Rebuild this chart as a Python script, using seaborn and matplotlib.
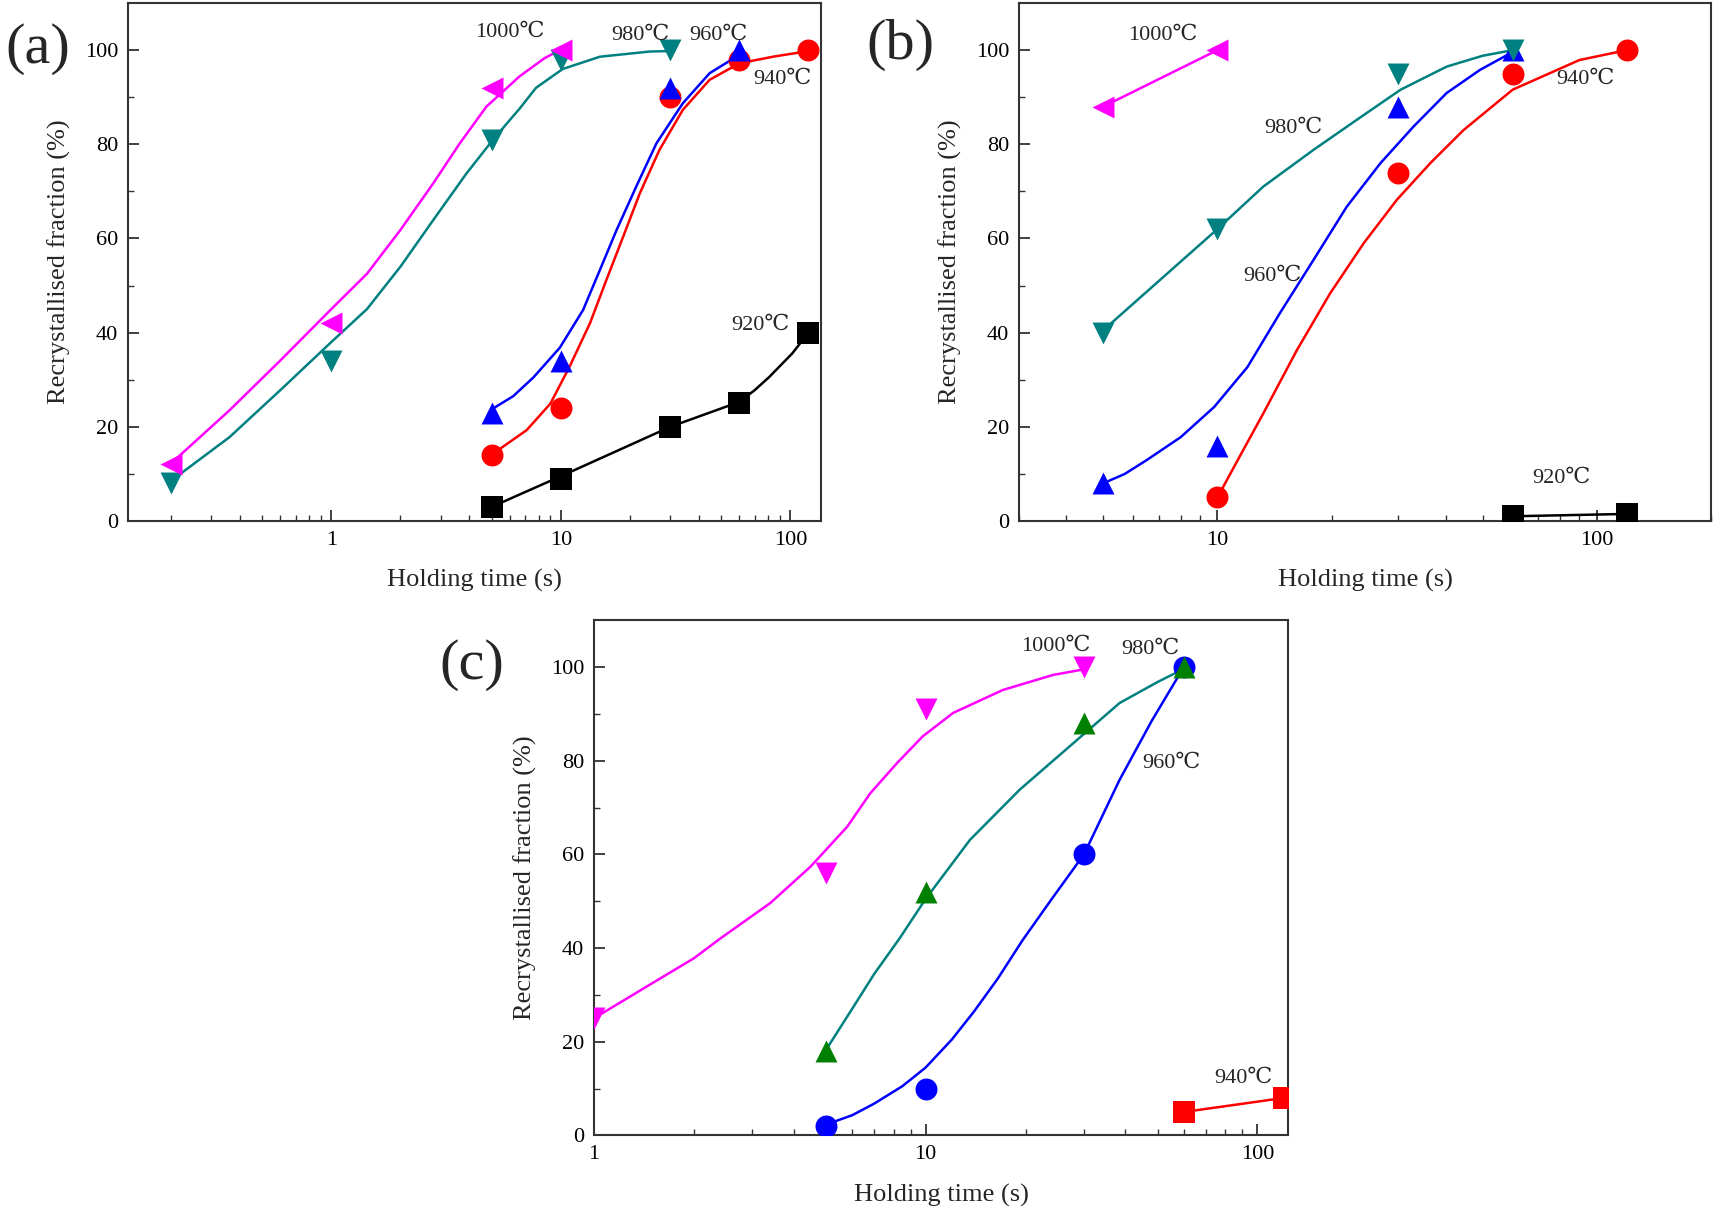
import numpy as np
import pandas as pd
import matplotlib.pyplot as plt
import matplotlib.ticker as mticker
import seaborn as sns

# ---- panel (a): markers and fitted curves ----
a_t_1000 = [0.2, 1, 5, 10]
a_y_1000 = [12, 42, 92, 100]
a_fit_t_1000 = [0.2, 0.36, 0.6, 1, 1.43, 2, 2.78, 3.63, 4.74, 6.6, 8.5, 9.9]
a_fit_y_1000 = [12.2, 23.5, 34.1, 45, 52.5, 61.8, 71.7, 80.2, 88, 94.4, 98.3, 100]

a_t_980 = [0.2, 1, 5, 10, 30]
a_y_980 = [8, 34, 81, 98, 100]
a_fit_t_980 = [0.2, 0.36, 0.6, 1, 1.43, 2, 2.78, 3.88, 5.07, 6.62, 7.8, 10.2, 14.8, 24.4, 30]
a_fit_y_980 = [8.5, 17.8, 27.8, 38, 45, 54, 63.9, 73.8, 81, 87.6, 92, 96, 98.6, 99.7, 99.8]

a_t_960 = [5, 10, 30, 60]
a_y_960 = [23, 34, 92, 100]
a_fit_t_960 = [5.07, 6.2, 7.6, 9.9, 12.5, 14.8, 17.5, 21.3, 26.1, 34, 44.5, 60]
a_fit_y_960 = [23.9, 26.5, 30.5, 36.8, 44.8, 53.3, 61.8, 71, 80.2, 88.7, 95.1, 99]

a_t_940 = [5, 10, 30, 60, 120]
a_y_940 = [14, 24, 90, 98, 100]
a_fit_t_940 = [5.07, 7.1, 9, 10.9, 13.4, 15.8, 18.7, 22.1, 26.9, 34, 44.5, 60, 84, 120]
a_fit_y_940 = [14.3, 19.3, 24.9, 32.7, 42, 51.2, 60.4, 69.6, 78.8, 87.3, 93.7, 97.2, 98.6, 99.8]

a_t_920 = [5, 10, 30, 60, 120]
a_y_920 = [3, 9, 20, 25, 40]
a_fit_t_920 = [5, 10, 30, 60, 70, 81, 102, 120]
a_fit_y_920 = [3, 9.5, 20, 25.3, 27.8, 30.6, 35.6, 40]

# ---- panel (b) ----
b_t_1000 = [5, 10]
b_y_1000 = [88, 100]

b_t_980 = [5, 10, 30, 60]
b_y_980 = [40, 62, 95, 100]
b_fit_t_980 = [5, 10, 13.2, 17.9, 23.3, 30.4, 40.2, 50, 60]
b_fit_y_980 = [40.5, 62, 71, 78.8, 85.2, 91.6, 96.5, 98.8, 100]

b_t_960 = [5, 10, 30, 60]
b_y_960 = [8, 16, 88, 100]
b_fit_t_960 = [5, 5.7, 6.5, 8, 9.8, 12, 14.6, 17.9, 21.9, 26.9, 32.9, 40.2, 49.2, 60]
b_fit_y_960 = [8, 10, 12.9, 17.8, 24.2, 32.7, 44.1, 55.4, 66.7, 76, 83.8, 90.9, 95.8, 99.6]

b_t_940 = [10, 30, 60, 120]
b_y_940 = [5, 74, 95, 100]
b_fit_t_940 = [10, 11.5, 13.2, 16.2, 19.8, 24.3, 29.7, 36.4, 44.5, 60, 90, 120]
b_fit_y_940 = [5, 14, 22.8, 36.3, 48.3, 59, 68.2, 76, 83, 91.6, 97.9, 100]

b_t_920 = [60, 120]
b_y_920 = [1, 1.5]

# ---- panel (c) ----
c_t_1000 = [1, 5, 10, 30]
c_y_1000 = [25, 56, 91, 100]
c_fit_t_1000 = [1, 1.5, 2, 2.4, 3.4, 4.5, 5.8, 6.8, 8.2, 9.8, 12.1, 17.1, 24.2, 30]
c_fit_y_1000 = [25, 32.5, 37.8, 42, 49.6, 57.4, 65.9, 73, 79.5, 85.2, 90.2, 95.1, 98.3, 99.5]

c_t_980 = [5, 10, 30, 60]
c_y_980 = [18, 52, 88, 100]
c_fit_t_980 = [5, 6, 7, 8.35, 10, 13.6, 19.2, 27.1, 38.4, 50, 60]
c_fit_y_980 = [18.2, 27, 34.5, 42.1, 50.5, 63.1, 73.8, 83, 92.3, 96.8, 99.6]

c_t_960 = [5, 10, 30, 60]
c_y_960 = [2, 10, 60, 100]
c_fit_t_960 = [5, 6, 7, 8.5, 10, 12, 14, 16.5, 19.6, 24, 30, 38.4, 48, 60]
c_fit_y_960 = [2.3, 4.3, 6.8, 10.5, 14.5, 20.5, 26.5, 33.5, 41.7, 50.5, 60, 75.9, 88.5, 100]

c_t_940 = [60, 120]
c_y_940 = [5, 8]

MAGENTA = '#ff00ff'
TEAL = '#008080'
BLUE = '#0000ff'
RED = '#ff0000'
BLACK = '#000000'
GREEN = '#008000'

sns.set_style('ticks')
plt.rcParams['font.family'] = ['Liberation Serif', 'DejaVu Serif']

fig = plt.figure(figsize=(17.15, 12.15), dpi=100)
fig.patch.set_facecolor('white')


def draw_series(ax, t, y, fit_t, fit_y, line_color, marker, marker_color=None):
    if marker_color is None:
        marker_color = line_color
    sns.lineplot(x=fit_t, y=fit_y, ax=ax, color=line_color, linewidth=1.8,
                 sort=False, zorder=2)
    sns.scatterplot(x=t, y=y, ax=ax, marker=marker, s=250, color=marker_color,
                    linewidth=0, zorder=3)


def style_axes(ax, xlim, major):
    ax.set_xscale('log')
    ax.set_xlim(*xlim)
    ax.set_ylim(0, 110)
    ax.xaxis.set_major_locator(mticker.FixedLocator(major))
    ax.xaxis.set_major_formatter(mticker.FixedFormatter([f'{m:g}' for m in major]))
    ax.xaxis.set_minor_locator(mticker.LogLocator(base=10, subs=np.arange(2, 10)))
    ax.xaxis.set_minor_formatter(mticker.NullFormatter())
    ax.yaxis.set_major_locator(mticker.FixedLocator([0, 20, 40, 60, 80, 100]))
    ax.yaxis.set_minor_locator(mticker.FixedLocator([10, 30, 50, 70, 90]))
    ax.tick_params(which='major', direction='in', length=8, width=1.3,
                   labelsize=16, pad=7, colors='#333333', labelcolor='black')
    ax.tick_params(which='minor', direction='in', length=4, width=1.0,
                   colors='#333333')
    for s in ax.spines.values():
        s.set_visible(True)
        s.set_color('#333333')
        s.set_linewidth(1.5)
    ax.set_xlabel('Holding time (s)', fontsize=19, labelpad=14)
    ax.set_ylabel('Recrystallised fraction (%)', fontsize=19, labelpad=10)


def temp_label(ax, x, y, text):
    ax.text(x, y, text, fontsize=16, ha='center', va='center', zorder=4)


# (a)
ax_a = fig.add_axes([0.0746, 0.5712, 0.4041, 0.4263])
draw_series(ax_a, a_t_920, a_y_920, a_fit_t_920, a_fit_y_920, BLACK, 's')
draw_series(ax_a, a_t_940, a_y_940, a_fit_t_940, a_fit_y_940, RED, 'o')
draw_series(ax_a, a_t_960, a_y_960, a_fit_t_960, a_fit_y_960, BLUE, '^')
draw_series(ax_a, a_t_980, a_y_980, a_fit_t_980, a_fit_y_980, TEAL, 'v')
draw_series(ax_a, a_t_1000, a_y_1000, a_fit_t_1000, a_fit_y_1000, MAGENTA, '<')
style_axes(ax_a, (0.13, 136), [1, 10, 100])
temp_label(ax_a, 6.0, 103.7, '1000℃')
temp_label(ax_a, 22.3, 103.2, '980℃')
temp_label(ax_a, 48.5, 103.2, '960℃')
temp_label(ax_a, 92.6, 93.7, '940℃')
temp_label(ax_a, 74.3, 41.6, '920℃')

# (b)
ax_b = fig.add_axes([0.5942, 0.5712, 0.4035, 0.4263])
draw_series(ax_b, b_t_920, b_y_920, b_t_920, b_y_920, BLACK, 's')
draw_series(ax_b, b_t_940, b_y_940, b_fit_t_940, b_fit_y_940, RED, 'o')
draw_series(ax_b, b_t_960, b_y_960, b_fit_t_960, b_fit_y_960, BLUE, '^')
draw_series(ax_b, b_t_980, b_y_980, b_fit_t_980, b_fit_y_980, TEAL, 'v')
draw_series(ax_b, b_t_1000, b_y_1000, b_t_1000, b_y_1000, MAGENTA, '<')
style_axes(ax_b, (3, 200), [10, 100])
temp_label(ax_b, 7.17, 103.2, '1000℃')
temp_label(ax_b, 15.85, 83.3, '980℃')
temp_label(ax_b, 13.96, 52.0, '960℃')
temp_label(ax_b, 93.5, 93.7, '940℃')
temp_label(ax_b, 80.7, 9.1, '920℃')

# (c)
ax_c = fig.add_axes([0.3463, 0.0655, 0.4050, 0.4241])
draw_series(ax_c, c_t_940, c_y_940, c_t_940, c_y_940, RED, 's')
draw_series(ax_c, c_t_960, c_y_960, c_fit_t_960, c_fit_y_960, BLUE, 'o')
draw_series(ax_c, c_t_980, c_y_980, c_fit_t_980, c_fit_y_980, TEAL, '^', GREEN)
draw_series(ax_c, c_t_1000, c_y_1000, c_fit_t_1000, c_fit_y_1000, MAGENTA, 'v')
style_axes(ax_c, (1, 124), [1, 10, 100])
temp_label(ax_c, 24.6, 104.4, '1000℃')
temp_label(ax_c, 47.5, 103.7, '980℃')
temp_label(ax_c, 55.0, 79.4, '960℃')
temp_label(ax_c, 90.6, 12.1, '940℃')

for ax in (ax_a, ax_b, ax_c):
    ax.set_facecolor('white')
    leg = ax.get_legend()
    if leg is not None:
        leg.remove()

# panel letters
fig.text(38 / 1715, 1 - 49 / 1215, '(a)', fontsize=42, ha='center', va='center')
fig.text(900 / 1715, 1 - 45 / 1215, '(b)', fontsize=42, ha='center', va='center')
fig.text(472 / 1715, 1 - 665 / 1215, '(c)', fontsize=42, ha='center', va='center')

fig.savefig('out.png', dpi=100, facecolor='white')
